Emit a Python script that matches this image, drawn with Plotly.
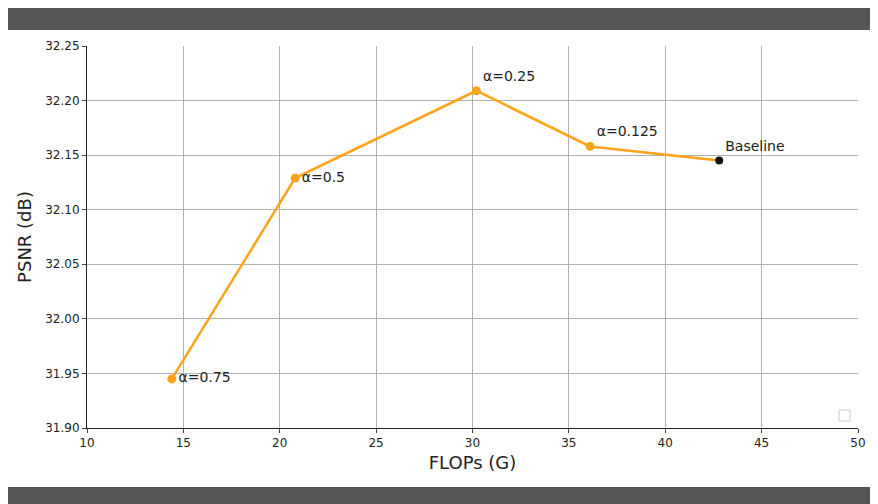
import plotly.graph_objects as go

flops = [14.4, 20.8, 30.2, 36.1]
psnr = [31.945, 32.129, 32.209, 32.158]
labels = ["α=0.75", "α=0.5", "α=0.25", "α=0.125"]
label_pos = ["middle right", "middle right", "top right", "top right"]
base_flops = 42.8
base_psnr = 32.145

# page adds an 8px offset, so the figure is 8px smaller and everything shifted
OFF = 8
W, H = 878 - OFF, 504 - OFF
L, R, T, B = 87 - OFF, 18, 46 - OFF, 76
pw, ph = W - L - R, H - T - B


def px_x(x):
    return (x - OFF - L) / pw


def px_y(y):
    return (H - B - (y - OFF)) / ph


fig = go.Figure()
fig.add_trace(go.Scatter(x=flops + [base_flops], y=psnr + [base_psnr], mode="lines",
                         line=dict(color="#ffa31a", width=2.5), showlegend=False))
fig.add_trace(go.Scatter(x=flops, y=psnr, mode="markers+text", text=labels,
                         textposition=label_pos,
                         marker=dict(color="#ffa31a", size=9),
                         textfont=dict(size=14, color="#222"), showlegend=False))
fig.add_trace(go.Scatter(x=[base_flops], y=[base_psnr], mode="markers+text", text=["Baseline"],
                         textposition="top right",
                         marker=dict(color="#111", size=8),
                         textfont=dict(size=14, color="#222"), showlegend=False))

fig.update_layout(
    width=W, height=H,
    margin=dict(l=L, r=R, t=T, b=B),
    paper_bgcolor="#555555",
    plot_bgcolor="white",
    font=dict(family="DejaVu Sans", color="#222"),
    shapes=[
        dict(type="rect", xref="paper", yref="paper", layer="below",
             x0=px_x(3), x1=px_x(875), y0=px_y(487), y1=px_y(30),
             fillcolor="white", line=dict(width=0)),
        dict(type="rect", xref="paper", yref="paper",
             x0=px_x(841), x1=px_x(852), y0=px_y(421), y1=px_y(410),
             fillcolor="white", line=dict(color="#ccc", width=1)),
    ],
)
fig.update_xaxes(range=[10, 50], dtick=5, showgrid=True, gridcolor="#b0b0b0",
                 showline=True, linecolor="#222", ticks="outside", ticklen=4,
                 mirror=False, zeroline=False, tickfont=dict(size=12),
                 title=dict(text="FLOPs (G)", font=dict(size=18), standoff=6))
fig.update_yaxes(range=[31.9, 32.25], dtick=0.05, tickformat=".2f", showgrid=True,
                 gridcolor="#b0b0b0", showline=True, linecolor="#222", ticks="outside",
                 ticklen=4, zeroline=False, tickfont=dict(size=12),
                 title=dict(text="PSNR (dB)", font=dict(size=18), standoff=8))

fig.write_html("out.html")
